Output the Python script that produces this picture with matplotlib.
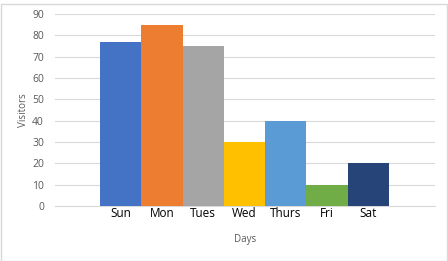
import matplotlib
matplotlib.use("Agg")
import matplotlib.pyplot as plt
from matplotlib.patches import Rectangle

days = ["Sun", "Mon", "Tues", "Wed", "Thurs", "Fri", "Sat"]
visitors = [77, 85, 75, 30, 40, 10, 20]
colors = ["#4472C4", "#ED7D31", "#A5A5A5", "#FFC000", "#5B9BD5", "#70AD47", "#264478"]
yticks = list(range(0, 91, 10))

plt.rcParams['font.family'] = ['Open Sans', 'DejaVu Sans']

fig = plt.figure(figsize=(4.48, 2.61), dpi=100)
ax = fig.add_axes([55/448, 1-206/261, 380/448, 192/261])

x = list(range(len(days)))
ax.bar(x, visitors, width=1.0, color=colors, zorder=3)
ax.set_xlim(-1.59, 7.614)
ax.set_ylim(0, 90)
ax.set_yticks(yticks)
ax.set_xticks(x)
ax.set_xticklabels(days, fontsize=8.5, color="#000000")
ax.tick_params(axis='y', labelsize=7.5, colors="#595959", length=0, pad=8)
ax.tick_params(axis='x', length=0, pad=1)
ax.grid(axis='y', color="#d9d9d9", linewidth=0.8, zorder=0)
for s in ["top", "right", "left"]:
    ax.spines[s].set_visible(False)
ax.spines["bottom"].set_color("#d9d9d9")
ax.spines["bottom"].set_linewidth(0.8)
ax.set_ylabel("Visitors", fontsize=7, color="#595959", labelpad=2)
ax.set_xlabel("Days", fontsize=7, color="#595959", labelpad=10)

fig.patches.append(Rectangle((0.5/448, 0.5/261), 446.5/448, 257/261, transform=fig.transFigure,
                             fill=False, edgecolor="#d9d9d9", linewidth=1))

fig.savefig("out.png", dpi=100)
